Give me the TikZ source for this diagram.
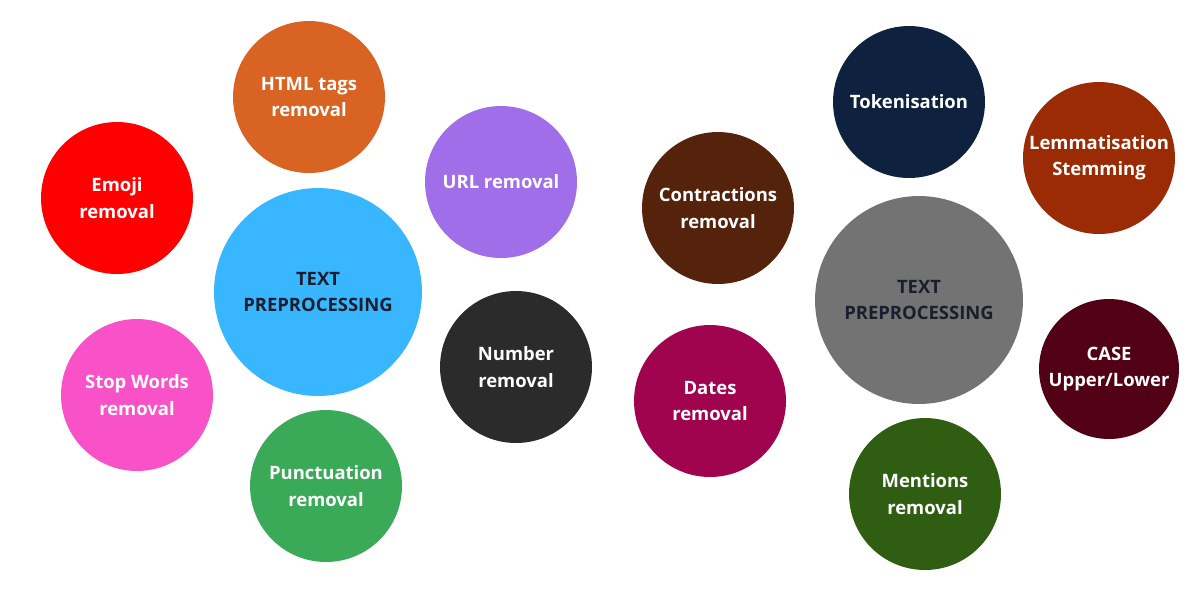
\documentclass[tikz,border=0pt]{standalone}
\usepackage{fontspec}
\setmainfont{Open Sans}
\definecolor{emojiRed}{HTML}{FF0000}
\definecolor{htmlOrange}{HTML}{D96323}
\definecolor{urlPurple}{HTML}{A06EE8}
\definecolor{skyBlue}{HTML}{38B6FF}
\definecolor{stopPink}{HTML}{F952C8}
\definecolor{numberBlack}{HTML}{2B2B2B}
\definecolor{punctGreen}{HTML}{3BAA58}
\definecolor{contrBrown}{HTML}{55230C}
\definecolor{datesWine}{HTML}{A0044F}
\definecolor{tokenNavy}{HTML}{0E2240}
\definecolor{lemmaRust}{HTML}{9B2B04}
\definecolor{midGrey}{HTML}{737373}
\definecolor{caseMaroon}{HTML}{520015}
\definecolor{mentionGreen}{HTML}{2F5E12}
\definecolor{darkText}{HTML}{1A1F2E}

\begin{document}
\begin{tikzpicture}[x=0.02cm, y=-0.02cm,
                    every node/.style={align=center, font=\bfseries\fontsize{10.5}{15}\selectfont},
                    stepVertex/.style={
                        circle, inner sep=0pt, minimum size=3.04cm,
                        text=white, fill=#1
                    },
                    hubVertex/.style={
                        circle, inner sep=0pt, minimum size=4.16cm,
                        text=darkText, fill=#1
                    }
                   ]
    \useasboundingbox (0,0) rectangle (1200,600);

    % Left group
    \node[hubVertex=skyBlue] (L0) at (318,292) {TEXT\\PREPROCESSING};
    \node[stepVertex=emojiRed] (L1) at (117,198) {Emoji\\removal};
    \node[stepVertex=htmlOrange] (L2) at (309,97) {HTML tags\\removal};
    \node[stepVertex=urlPurple] (L3) at (501,182) {URL removal};
    \node[stepVertex=stopPink] (L4) at (137,395) {Stop Words\\removal};
    \node[stepVertex=numberBlack] (L5) at (516,367) {Number\\removal};
    \node[stepVertex=punctGreen] (L6) at (326,486) {Punctuation\\removal};

    % Right group
    \node[hubVertex=midGrey] (R0) at (919,300) {TEXT\\PREPROCESSING};
    \node[stepVertex=contrBrown] (R1) at (718,208) {Contractions\\removal};
    \node[stepVertex=datesWine] (R2) at (710,401) {Dates\\removal};
    \node[stepVertex=tokenNavy] (R3) at (909,102) {Tokenisation};
    \node[stepVertex=lemmaRust] (R4) at (1099,158) {Lemmatisation\\Stemming};
    \node[stepVertex=caseMaroon, minimum size=2.8cm] (R5) at (1109,369) {CASE\\Upper/Lower};
    \node[stepVertex=mentionGreen] (R6) at (925,494) {Mentions\\removal};
\end{tikzpicture}
\end{document}
